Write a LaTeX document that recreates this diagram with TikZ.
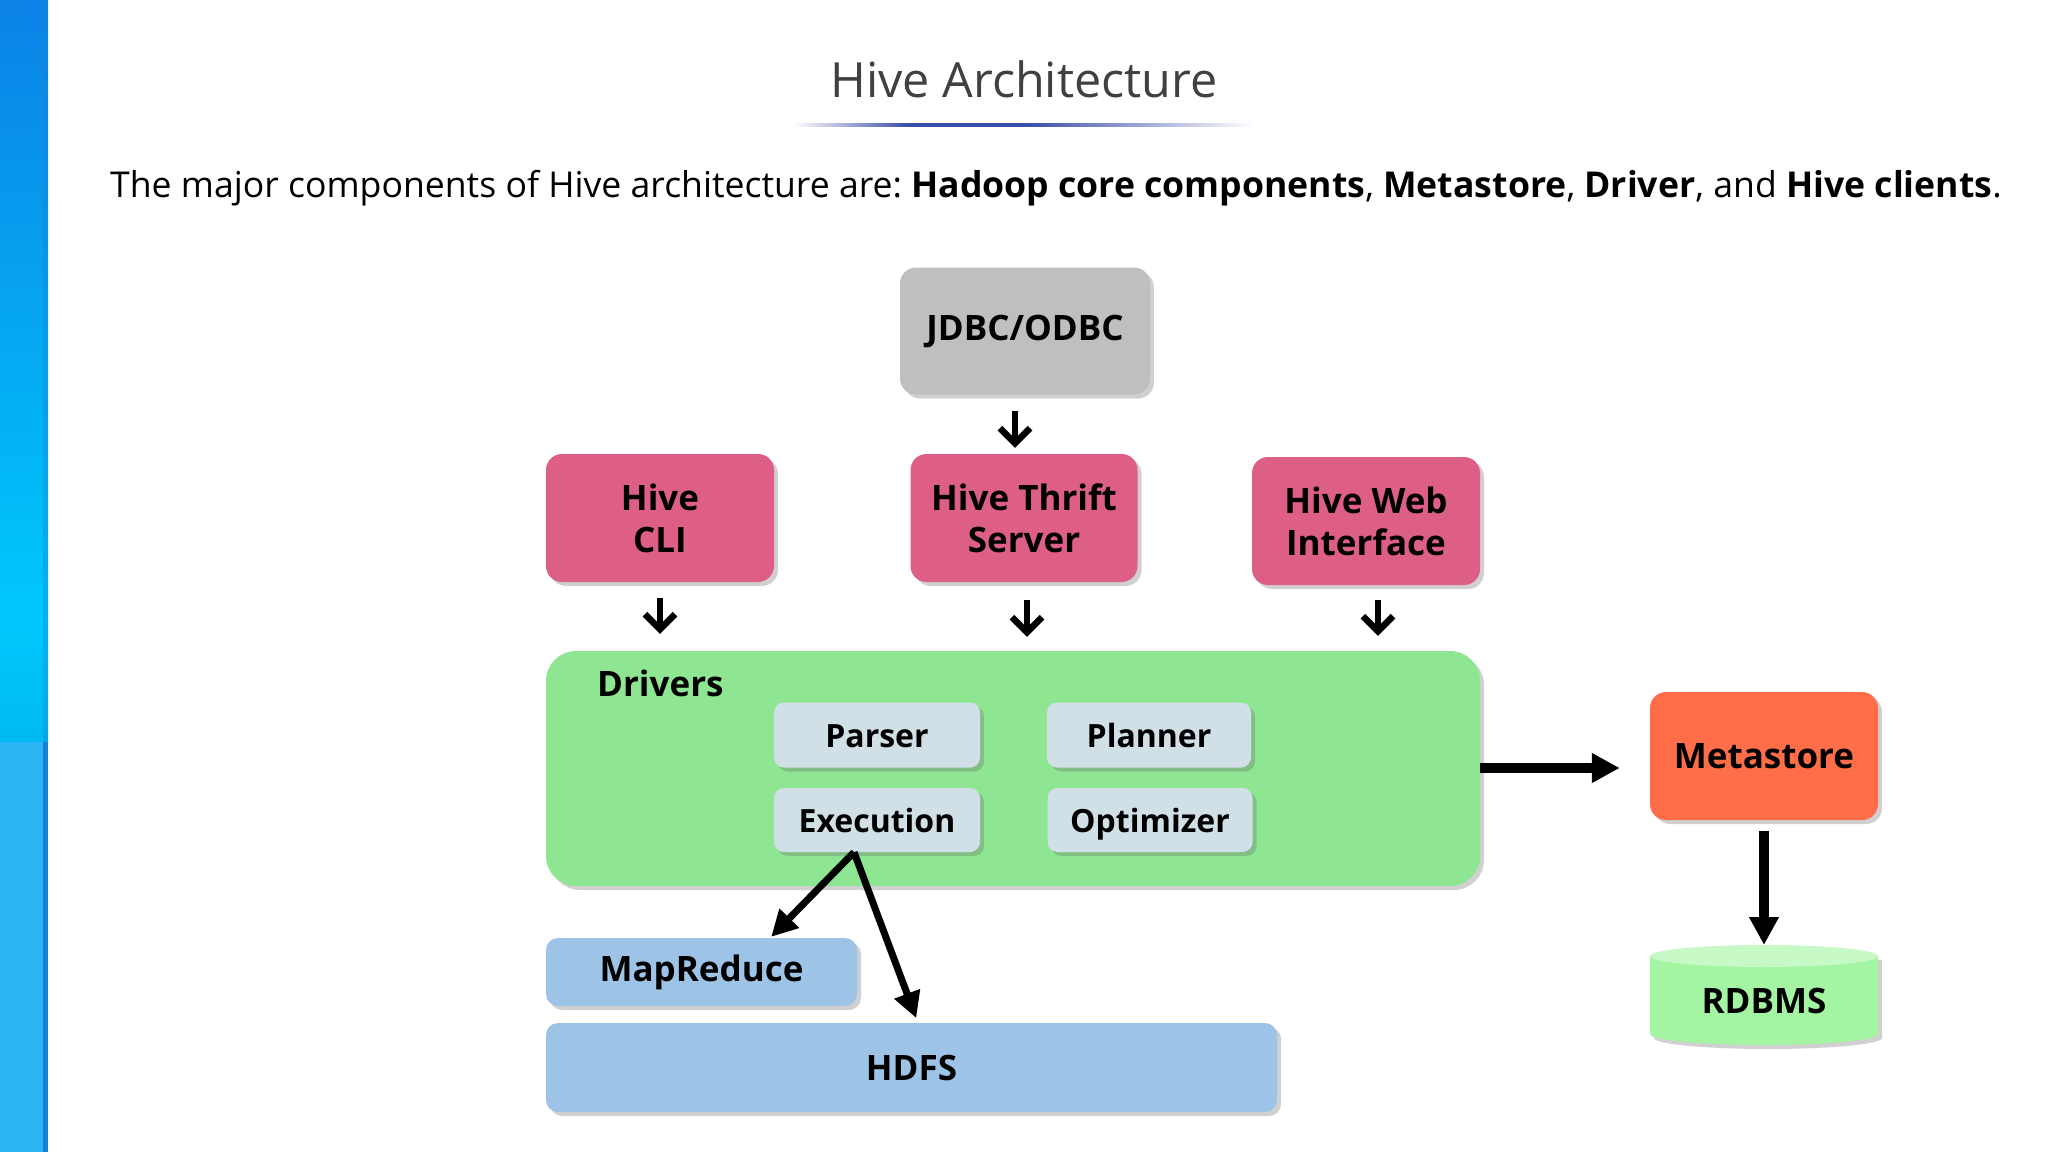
\documentclass[tikz,border=0pt]{standalone}
\usepackage{fontspec}
\setmainfont{Open Sans}
\frenchspacing
\usetikzlibrary{arrows.meta,shadows,calc}
\definecolor{barTop}{HTML}{0B82E6}
\definecolor{barMid}{HTML}{00C8FC}
\definecolor{barLow}{HTML}{00BAF0}
\definecolor{barBottom}{HTML}{2BB5F5}
\definecolor{barEdge}{HTML}{1584D6}
\definecolor{titleGray}{HTML}{404040}
\definecolor{ruleBlue}{HTML}{3A4DA8}
\definecolor{grayBox}{HTML}{BFBFBF}
\definecolor{pinkBox}{HTML}{DE5F85}
\definecolor{driverGreen}{HTML}{8EE693}
\definecolor{subBox}{HTML}{D1E0E6}
\definecolor{blueBox}{HTML}{9DC3E6}
\definecolor{metaOrange}{HTML}{FF6E48}
\definecolor{dbBody}{HTML}{A3F5A3}
\definecolor{dbTop}{HTML}{C6F9C6}
\tikzset{
  shadowed/.style={drop shadow={shadow xshift=4pt, shadow yshift=-4pt, opacity=0.3, fill=black!60}},
  bigbox/.style={shadowed, rectangle, rounded corners=16pt, inner sep=0pt, align=center,
    font=\fontsize{35}{42}\selectfont\bfseries, text=black},
  subbox/.style={shadowed, rectangle, rounded corners=10pt, inner sep=0pt, fill=subBox,
    minimum height=65pt, text height=28pt, text depth=4pt, font=\fontsize{32}{38}\selectfont\bfseries, text=black},
  smallarrow/.style={line width=6.5pt, -{Straight Barb[length=15pt, width=30pt]}},
  bigarrow/.style={line width=10pt, -{Triangle[length=28pt, width=28pt]}},
  midarrow/.style={line width=7pt, -{Triangle[length=26pt, width=26pt]}},
}
\begin{document}
\begin{tikzpicture}[x=1pt, y=-1pt]
\useasboundingbox (0,0) rectangle (2048,1152);
\fill[white] (0,0) rectangle (2048,1152);
% left bar
\shade[top color=barTop, bottom color=barMid] (0,0) rectangle (48,620);
\shade[top color=barMid, bottom color=barLow] (0,620) rectangle (48,742);
\fill[barBottom] (0,742) rectangle (43,1152);
\fill[barEdge] (43,742) rectangle (48,1152);
\fill[barEdge, opacity=0.35] (43,0) rectangle (48,742);
% title
\node[anchor=base, text=titleGray, font=\fontsize{48.5}{56}\selectfont, inner sep=0pt] (title) at (1024,97) {Hive Architecture};
\shade[left color=white, right color=ruleBlue, middle color=ruleBlue] (793,123.5) rectangle (1024,126.5);
\shade[left color=ruleBlue, right color=white] (1024,123.5) rectangle (1254,126.5);
\node[anchor=base west, text=black, font=\fontsize{35.6}{42}\selectfont, inner sep=0pt] (subtitle) at (110,197)
 {The major components of Hive architecture are: \textbf{Hadoop core components}, \textbf{Metastore}, \textbf{Driver}, and \textbf{Hive clients}.};
% clients
\node[bigbox, fill=grayBox, minimum width=250pt, minimum height=127pt] (jdbc) at (1025,331) {JDBC/ODBC};
\node[bigbox, fill=pinkBox, minimum width=228pt, minimum height=128pt] (cli) at (660,518) {Hive\\CLI};
\node[bigbox, fill=pinkBox, minimum width=227pt, minimum height=128pt] (thrift) at (1024,518) {Hive Thrift\\Server};
\node[bigbox, fill=pinkBox, minimum width=228pt, minimum height=128pt] (web) at (1366,521) {Hive Web\\Interface};
% drivers
\node[shadowed, rectangle, rounded corners=30pt, fill=driverGreen, minimum width=934pt, minimum height=235pt] (drivers) at (1013,768.5) {};
\node[anchor=base west, inner sep=0pt, font=\fontsize{35}{42}\selectfont\bfseries] (driverslbl) at (597,696) {Drivers};
\node[subbox, minimum width=206pt] (parser) at (877,735) {Parser};
\node[subbox, minimum width=204pt] (planner) at (1149,735) {Planner};
\node[subbox, minimum width=206pt, minimum height=64pt] (exec) at (877,820) {Execution};
\node[subbox, minimum width=205pt, minimum height=64pt] (optim) at (1150,820) {Optimizer};
% hadoop
\node[bigbox, rounded corners=12pt, fill=blueBox, minimum width=311pt, minimum height=68pt] (mapred) at (701.5,972) {MapReduce};
\node[bigbox, rounded corners=12pt, fill=blueBox, minimum width=731pt, minimum height=89pt] (hdfs) at (911.5,1067.5) {HDFS};
% metastore
\node[bigbox, fill=metaOrange, minimum width=228pt, minimum height=128pt] (meta) at (1764,756) {Metastore};
% RDBMS cylinder
\fill[black!60, opacity=0.3] (1654,960) -- (1654,1038) arc[start angle=180, end angle=0, x radius=114, y radius=11] -- (1882,960) -- cycle;
\fill[dbBody] (1650,956) -- (1650,1034) arc[start angle=180, end angle=0, x radius=114, y radius=11] -- (1878,956) -- cycle;
\fill[dbTop] (1764,956) ellipse[x radius=114, y radius=11];
\node[inner sep=0pt, font=\fontsize{35}{42}\selectfont\bfseries] (rdbms) at (1764,1001) {RDBMS};
\coordinate (rdbmstop) at (1764,945);
% connectors
\draw[smallarrow, shorten <=16pt, shorten >=6pt] ([xshift=-10pt]jdbc.south) -- ([xshift=-9pt]thrift.north);
\draw[smallarrow, shorten <=16pt, shorten >=17pt] (cli.south) -- (cli.south |- drivers.north);
\draw[smallarrow, shorten <=18pt, shorten >=14pt] ([xshift=3pt]thrift.south) -- ([xshift=3pt]thrift.south |- drivers.north);
\draw[smallarrow, shorten <=15pt, shorten >=15pt] ([xshift=12pt]web.south) -- ([xshift=12pt]web.south |- drivers.north);
\draw[bigarrow, shorten >=30pt] (drivers.east |- 0,768) -- (meta.west |- 0,768);
\draw[bigarrow, shorten <=11pt] (meta.south) -- (rdbmstop);
\coordinate (execout) at ([xshift=-23pt]exec.south);
\draw[midarrow] (execout) -- ([xshift=-86pt, yshift=1pt]mapred.north east);
\draw[midarrow, shorten >=5pt] (execout) -- ([xshift=6.5pt]hdfs.north);
\end{tikzpicture}
\end{document}
